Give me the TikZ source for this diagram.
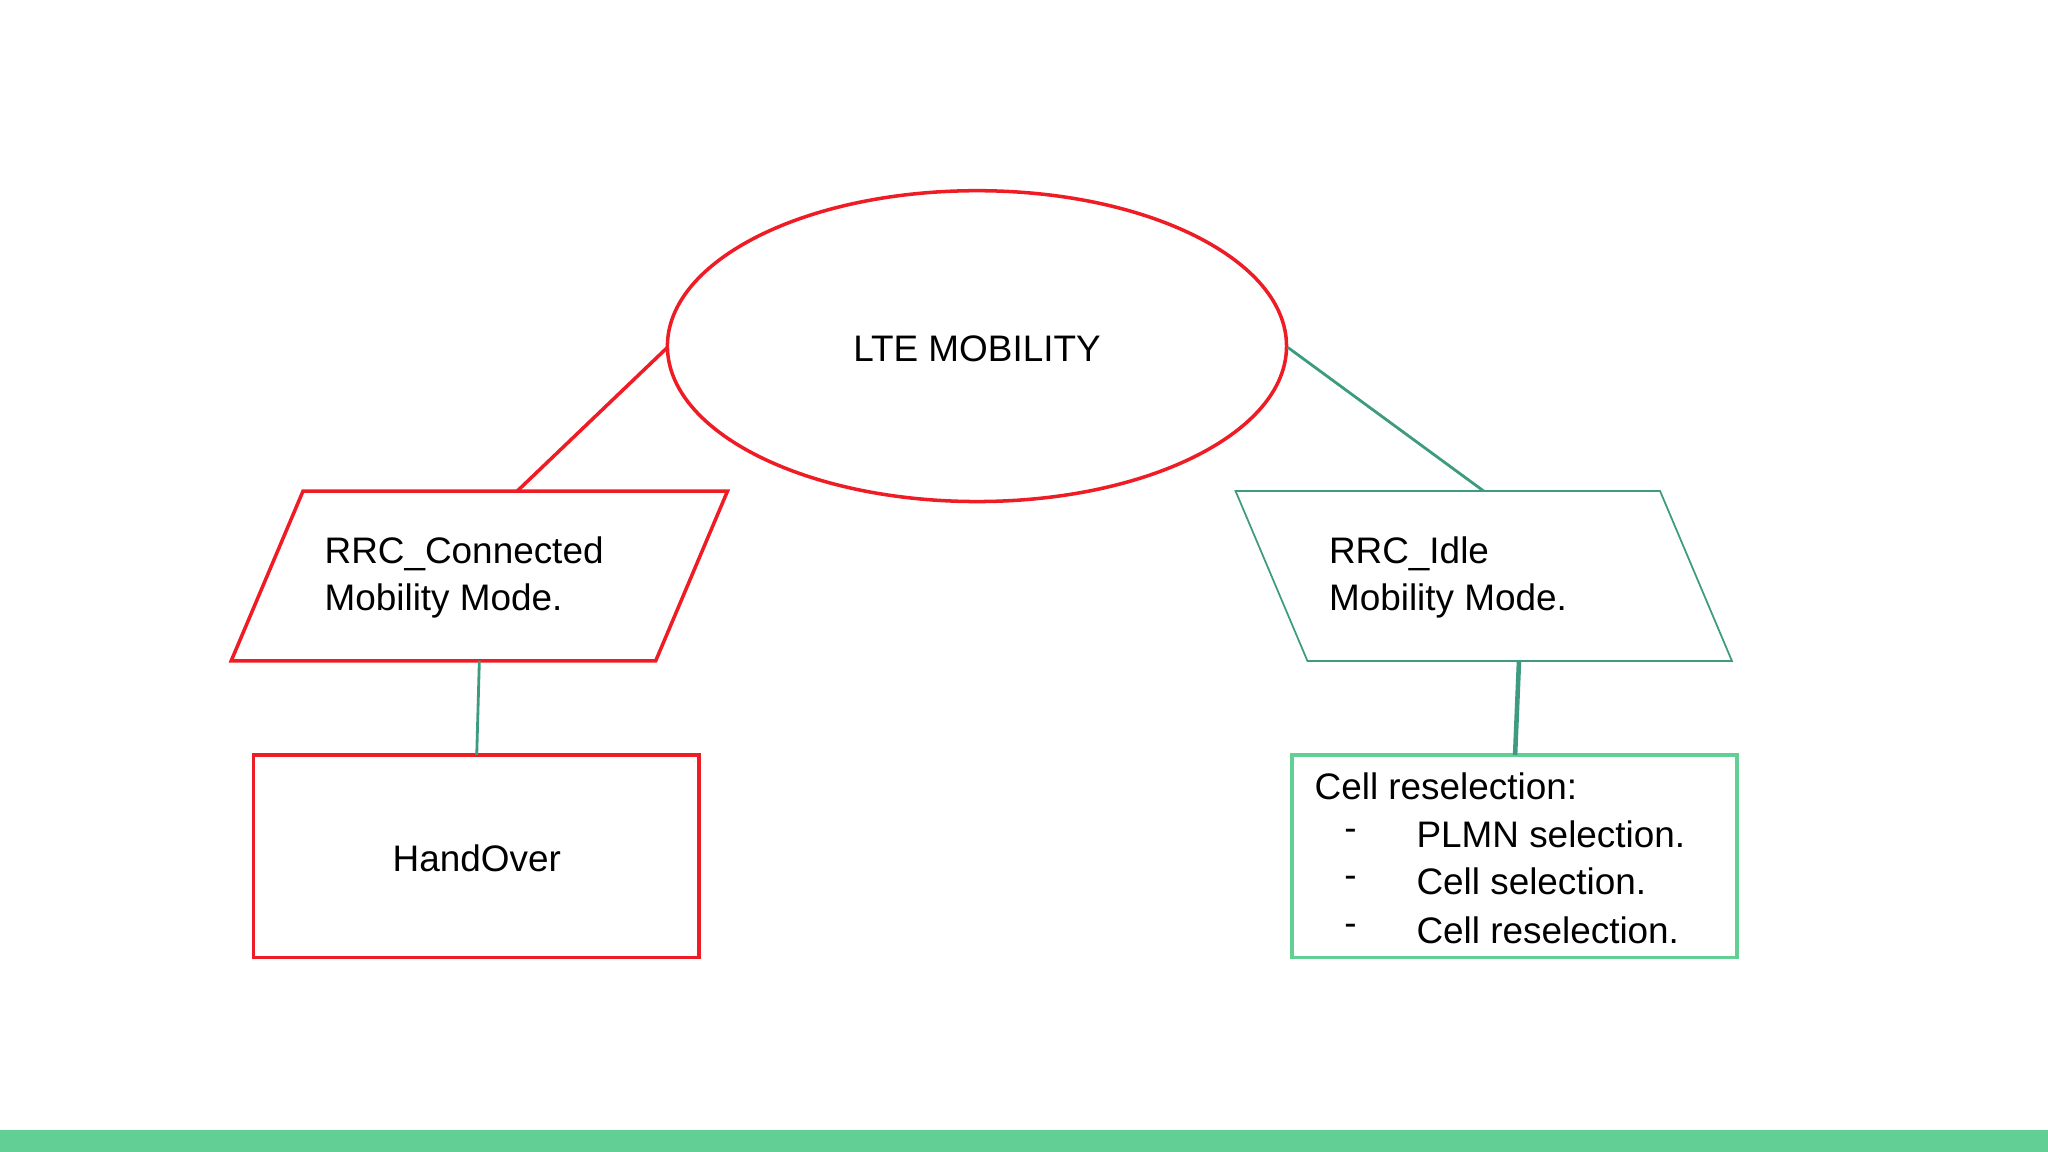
\documentclass[tikz,border=0pt]{standalone}
\usepackage{fontspec}
\setmainfont{Liberation Sans}
\definecolor{myred}{HTML}{EE1C25}
\definecolor{teal}{HTML}{3F9B7F}
\definecolor{lgreen}{HTML}{62CF94}
\begin{document}
\begin{tikzpicture}[x=0.013061cm,y=-0.013061cm,
  txt/.style={font=\fontsize{10.5pt}{13.5pt}\selectfont,inner sep=0pt},
  redl/.style={draw=myred,line width=1pt},
  tealc/.style={draw=teal,line width=0.8pt}]
\useasboundingbox (0,0) rectangle (1568,882);
\fill[lgreen] (0,865) rectangle (1568,882);
% ellipse
\draw[redl] (748,265) ellipse [x radius=237,y radius=119];
\node[txt] (lte) at (748,267) {LTE MOBILITY};
% parallelograms
\draw[redl] (232,376) -- (557,376) -- (502,506) -- (177,506) -- cycle;
\draw[teal,line width=0.5pt] (946,376) -- (1271,376) -- (1326,506) -- (1001,506) -- cycle;
\node[txt,anchor=west,align=left] (conn) at (248,442) {RRC\_Connected\\Mobility Mode.};
\node[txt,anchor=west,align=left] (idle) at (1017,442) {RRC\_Idle\\Mobility Mode.};
% rects
\draw[redl] (194,578) rectangle (535,733);
\node[txt] (ho) at (365,657) {HandOver};
\draw[lgreen,line width=1pt] (989,578) rectangle (1330,733);
\node[txt,anchor=west] (c0) at (1006,602) {Cell reselection:};
\foreach \y/\t/\n in {639/PLMN selection./c1,675/Cell selection./c2,712/Cell reselection./c3}{
  \node[txt] at (1034,\y) {-};
  \node[txt,anchor=west] (\n) at (1084,\y) {\t};
}
% connector endpoints
\coordinate (eL) at (511,266); \coordinate (pL) at (396,376);
\coordinate (eR) at (986,266); \coordinate (pR) at (1136,376);
\coordinate (pLb) at (367,506); \coordinate (hoT) at (365,578);
\coordinate (pRb) at (1163,506); \coordinate (crT) at (1160,578);
\draw[redl] (eL) -- (pL);
\draw[tealc] (eR) -- (pR);
\draw[tealc] (pLb) -- (hoT);
\draw[teal,line width=1.3pt] (pRb) -- (crT);
\end{tikzpicture}
\end{document}
